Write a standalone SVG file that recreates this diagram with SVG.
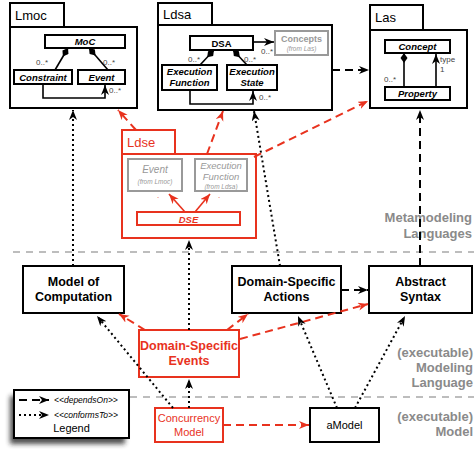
<svg xmlns="http://www.w3.org/2000/svg" width="474" height="456" viewBox="0 0 474 456">
<defs>
<style>
text{font-family:"Liberation Sans",Arial,sans-serif;}
.box{fill:#fff;stroke:#000;stroke-width:2;}
.rbox{fill:#fff;stroke:#e8321e;stroke-width:2;}
.gbox{fill:#fff;stroke:#999;stroke-width:2;}
.node{font-size:12.5px;font-weight:bold;text-anchor:middle;}
.cls{font-size:9.5px;font-weight:bold;font-style:italic;text-anchor:middle;}
.pkg{font-size:13px;}
.mult{font-size:8px;fill:#444;}
.glab{font-size:13px;font-weight:bold;fill:#8a8a8a;text-anchor:end;}
.dot{fill:none;stroke:#000;stroke-width:2;stroke-dasharray:2,3;}
.dash{fill:none;stroke:#000;stroke-width:2;stroke-dasharray:8,5;}
.rdash{fill:none;stroke:#e8321e;stroke-width:2;stroke-dasharray:8,5;}
.solid{fill:none;stroke:#000;stroke-width:1.6;}
.rsolid{fill:none;stroke:#e8321e;stroke-width:1.6;}
.sep{fill:none;stroke:#bdbdbd;stroke-width:2;stroke-dasharray:7,6;}
</style>
<marker id="ab" markerUnits="userSpaceOnUse" markerWidth="12" markerHeight="10" refX="10" refY="4" orient="auto">
<path d="M0,0 L10,4 L0,8 L3,4 z" fill="#000"/>
</marker>
<marker id="ar" markerUnits="userSpaceOnUse" markerWidth="12" markerHeight="10" refX="10" refY="4" orient="auto">
<path d="M0,0 L10,4 L0,8 L3,4 z" fill="#e8321e"/>
</marker>
<marker id="dia" markerUnits="userSpaceOnUse" markerWidth="12" markerHeight="8" refX="0" refY="3.5" orient="auto">
<path d="M0,3.5 L5,0 L10,3.5 L5,7 z" fill="#000"/>
</marker>
<filter id="blur" x="-20%" y="-30%" width="140%" height="160%"><feGaussianBlur stdDeviation="2.5"/></filter>
</defs>

<rect width="474" height="456" fill="#fff"/>

<!-- separators -->
<path class="sep" d="M13,252 H474"/>
<path class="sep" d="M130,397 H474"/>
<text class="glab" x="472" y="222">Metamodeling</text>
<text class="glab" x="472" y="238">Languages</text>
<text class="glab" x="473" y="357">(executable)</text>
<text class="glab" x="473" y="372">Modeling</text>
<text class="glab" x="473" y="387">Language</text>
<text class="glab" x="473" y="421">(executable)</text>
<text class="glab" x="473" y="436">Model</text>

<!-- Lmoc -->
<g id="Lmoc">
<rect class="box" x="10" y="3" width="54" height="24"/>
<rect class="box" x="10" y="27" width="127" height="81"/>
<text class="pkg" x="15" y="20">Lmoc</text>
<rect class="box" x="45" y="35" width="80" height="13"/>
<text class="cls" x="85" y="45">MoC</text>
<rect class="box" x="14" y="70" width="58" height="14"/>
<text class="cls" x="43" y="81">Constraint</text>
<rect class="box" x="78" y="70" width="47" height="14"/>
<text class="cls" x="101.5" y="81">Event</text>
<path class="solid" d="M68,48 L55,70" marker-start="url(#dia)"/>
<path class="solid" d="M89,48 L108,70" marker-start="url(#dia)"/>
<text class="mult" x="36" y="65">0..*</text>
<text class="mult" x="103" y="65">0..*</text>
<path class="solid" d="M43,84 V98 H105 V85" marker-end="url(#ab)"/>
<text class="mult" x="109" y="93">0..*</text>
</g>

<!-- Ldsa -->
<g id="Ldsa">
<rect class="box" x="158" y="3" width="54" height="22"/>
<rect class="box" x="158" y="25" width="174" height="85"/>
<text class="pkg" x="163" y="19">Ldsa</text>
<rect class="box" x="190" y="36" width="63" height="14"/>
<text class="cls" x="221.5" y="47" style="font-style:normal">DSA</text>
<rect class="gbox" x="275" y="31" width="53" height="24"/>
<text x="301.5" y="42" font-size="9" font-weight="bold" fill="#999" text-anchor="middle">Concepts</text>
<text x="301.5" y="51" font-size="6.5" font-style="italic" fill="#999" text-anchor="middle">(from Las)</text>
<path class="solid" d="M253,42 H274" marker-end="url(#ab)"/>
<text class="mult" x="261" y="54">0..*</text>
<rect class="box" x="162" y="65" width="55" height="25"/>
<text class="cls" x="189.5" y="75">Execution</text>
<text class="cls" x="189.5" y="86">Function</text>
<rect class="box" x="227" y="65" width="50" height="25"/>
<text class="cls" x="252" y="75">Execution</text>
<text class="cls" x="252" y="86">State</text>
<path class="solid" d="M214,50 L200,65" marker-start="url(#dia)"/>
<path class="solid" d="M233,50 L247,65" marker-start="url(#dia)"/>
<text class="mult" x="188" y="62">0..*</text>
<text class="mult" x="244" y="62">0..*</text>
<path class="solid" d="M190,90 V104 H253 V91" marker-end="url(#ab)"/>
<text class="mult" x="259" y="100">0..*</text>
</g>

<!-- Las -->
<g id="Las">
<rect class="box" x="370" y="5" width="53" height="25"/>
<rect class="box" x="370" y="30" width="97" height="78"/>
<text class="pkg" x="375" y="22">Las</text>
<rect class="box" x="385" y="40" width="65" height="13"/>
<text class="cls" x="417.5" y="50">Concept</text>
<rect class="box" x="385" y="87" width="65" height="13"/>
<text class="cls" x="417.5" y="97">Property</text>
<path class="solid" d="M404,53 V87" marker-start="url(#dia)"/>
<text class="mult" x="384" y="82">0..*</text>
<path class="solid" d="M436,87 V54" marker-end="url(#ab)"/>
<text class="mult" x="440" y="62">type</text>
<text class="mult" x="440" y="72">1</text>
</g>

<!-- Ldse -->
<g id="Ldse">
<rect class="rbox" x="122" y="130" width="53" height="24"/>
<rect class="rbox" x="122" y="154" width="134" height="84"/>
<text class="pkg" x="127" y="147" fill="#e8321e">Ldse</text>
<rect class="gbox" x="128" y="159" width="54" height="32"/>
<text x="155" y="173" font-size="10" font-style="italic" fill="#999" text-anchor="middle">Event</text>
<text x="155" y="184" font-size="6.5" font-style="italic" fill="#999" text-anchor="middle">(from Lmoc)</text>
<rect class="gbox" x="195" y="159" width="52" height="32"/>
<text x="221" y="169" font-size="9.5" font-style="italic" fill="#999" text-anchor="middle">Execution</text>
<text x="221" y="180" font-size="9.5" font-style="italic" fill="#999" text-anchor="middle">Function</text>
<text x="221" y="189" font-size="6.5" font-style="italic" fill="#999" text-anchor="middle">(from Ldsa)</text>
<rect class="rbox" x="137" y="212" width="103" height="13"/>
<text class="cls" x="188.5" y="222.5" fill="#e8321e" font-size="10">DSE</text>
<path class="rsolid" d="M185,212 L169,194" marker-end="url(#ar)"/>
<path class="rsolid" d="M195,212 L210,194" marker-end="url(#ar)"/>
<text x="157" y="198" font-size="8" fill="#e8321e">.</text>
<text x="218" y="198" font-size="8" fill="#e8321e">.</text>
</g>

<!-- nodes -->
<g id="moc">
<rect class="box" x="23" y="266" width="101" height="47"/>
<text class="node" x="73.5" y="286">Model of</text>
<text class="node" x="73.5" y="301">Computation</text>
</g>
<g id="dsa">
<rect class="box" x="232" y="266" width="109" height="47"/>
<text class="node" x="286.5" y="286">Domain-Specific</text>
<text class="node" x="286.5" y="301">Actions</text>
</g>
<g id="as">
<rect class="box" x="369" y="266" width="103" height="47"/>
<text class="node" x="420.5" y="286">Abstract</text>
<text class="node" x="420.5" y="301">Syntax</text>
</g>
<g id="dse">
<rect class="rbox" x="139" y="330" width="100" height="47"/>
<text class="node" x="189" y="350" fill="#e8321e">Domain-Specific</text>
<text class="node" x="189" y="365" fill="#e8321e">Events</text>
</g>
<g id="concurrency">
<rect class="rbox" x="155" y="408" width="68" height="34"/>
<text x="189" y="422" font-size="11" fill="#e8321e" text-anchor="middle">Concurrency</text>
<text x="189" y="436" font-size="11" fill="#e8321e" text-anchor="middle">Model</text>
</g>
<g id="amodel">
<rect class="box" x="310" y="408" width="69" height="34"/>
<text x="344.5" y="429" font-size="11" text-anchor="middle">aModel</text>
</g>
<g id="legend">
<rect x="10" y="396" width="115" height="48" fill="#222" opacity="0.8" filter="url(#blur)"/>
<rect class="box" x="14" y="390" width="115" height="48"/>
<path class="dash" d="M19,400 H49" marker-end="url(#ab)"/>
<text x="54" y="403" font-size="8.5" font-style="italic">&lt;&lt;dependsOn&gt;&gt;</text>
<path class="dot" d="M19,415 H49" marker-end="url(#ab)"/>
<text x="54" y="418" font-size="8.5" font-style="italic">&lt;&lt;conformsTo&gt;&gt;</text>
<text x="71.5" y="432" font-size="11" text-anchor="middle">Legend</text>
</g>

<!-- connectors -->
<g id="connectors">
<path class="dash" d="M332,70 H369" marker-end="url(#ab)"/>
<path class="dot" d="M73,266 V110" marker-end="url(#ab)"/>
<path class="dot" d="M280,266 L254,111" marker-end="url(#ab)"/>
<path class="dash" d="M420,266 V110" marker-end="url(#ab)"/>
<path class="dot" d="M189,330 V240" marker-end="url(#ab)"/>
<path class="dash" d="M341,290 H368" marker-end="url(#ab)"/>
<path class="rdash" d="M136,130 L118,110" marker-end="url(#ar)"/>
<path class="rdash" d="M207,154 L223,111" marker-end="url(#ar)"/>
<path class="rdash" d="M254,157 L368,101" marker-end="url(#ar)"/>
<path class="rdash" d="M145,330 L119,314" marker-end="url(#ar)"/>
<path class="rdash" d="M227,330 L248,314" marker-end="url(#ar)"/>
<path class="rdash" d="M240,339 L368,304" marker-end="url(#ar)"/>
<path class="rdash" d="M223,425 H309" marker-end="url(#ar)"/>
<path class="dot" d="M173,408 L97,316" marker-end="url(#ab)"/>
<path class="dot" d="M189,408 V379" marker-end="url(#ab)"/>
<path class="dot" d="M337,408 L298,316" marker-end="url(#ab)"/>
<path class="dot" d="M355,408 L405,316" marker-end="url(#ab)"/>
</g>
</svg>
